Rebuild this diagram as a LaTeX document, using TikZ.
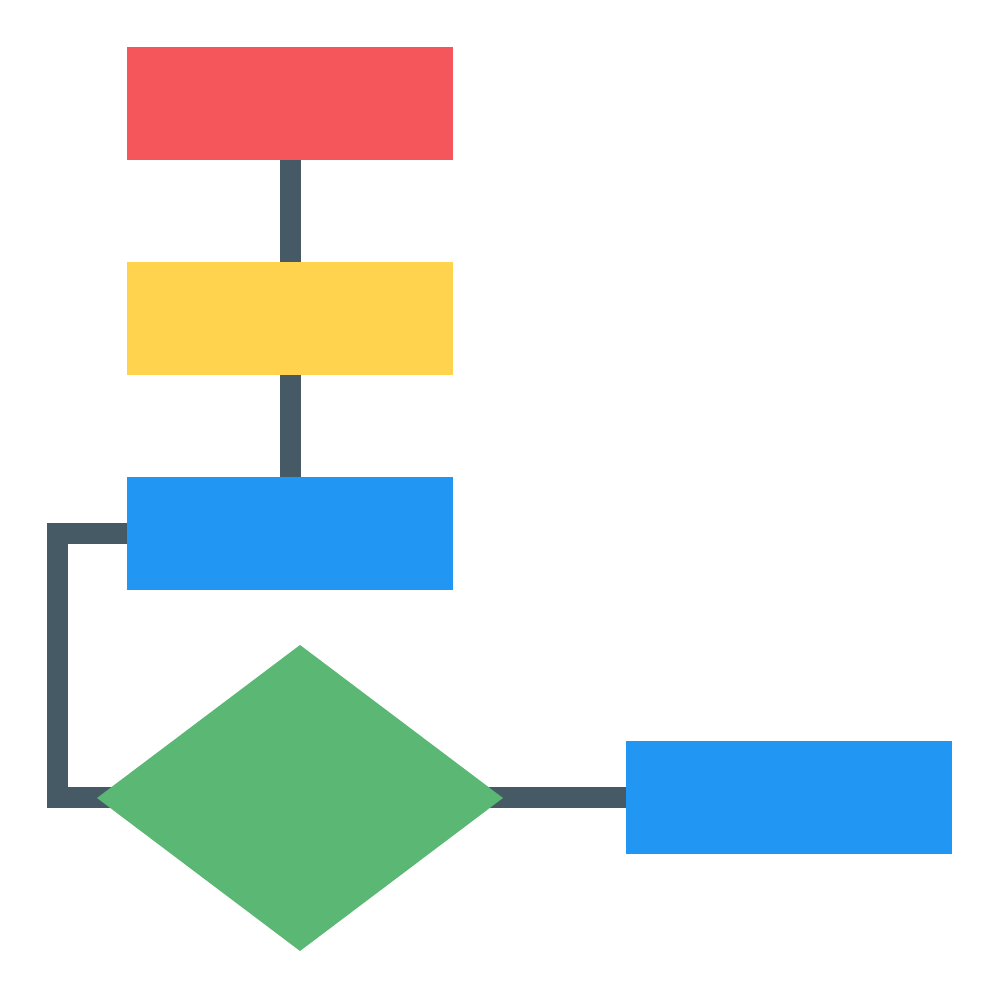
\documentclass[tikz,border=0pt]{standalone}
\usetikzlibrary{shapes.geometric,backgrounds}
\definecolor{cred}{RGB}{244,86,91}
\definecolor{cyellow}{RGB}{255,211,78}
\definecolor{cblue}{RGB}{33,150,243}
\definecolor{cgreen}{RGB}{91,184,116}
\definecolor{cline}{RGB}{69,90,100}
\begin{document}
\begin{tikzpicture}[
  box/.style={rectangle, draw=none, minimum width=3.26cm, minimum height=1.13cm, inner sep=0pt, outer sep=0pt},
  dia/.style={diamond, draw=none, fill=cgreen, minimum width=4.06cm, minimum height=3.06cm, inner sep=0pt, outer sep=0pt},
  conn/.style={draw=cline, line width=0.21cm, line cap=butt, line join=miter}
]
\useasboundingbox (0,0) rectangle (10,10);
\node[box, fill=cred]    (red)    at (2.90,8.965) {};
\node[box, fill=cyellow] (yellow) at (2.90,6.815) {};
\node[box, fill=cblue]   (blue1)  at (2.90,4.665) {};
\node[dia]               (dec)    at (3.00,2.02) {};
\node[box, fill=cblue]   (blue2)  at (7.89,2.02) {};
\coordinate (c1) at (0.575,4.665);
\coordinate (c2) at (0.575,2.02);
\begin{pgfonlayer}{background}
\fill[white] (0,0) rectangle (10,10);
\draw[conn] (red.south) -- (yellow.north);
\draw[conn] (yellow.south) -- (blue1.north);
\draw[conn] (blue1.west) -- (c1) -- (c2) -- (dec.center);
\draw[conn] (dec.center) -- (blue2.west);
\end{pgfonlayer}
\end{tikzpicture}
\end{document}
